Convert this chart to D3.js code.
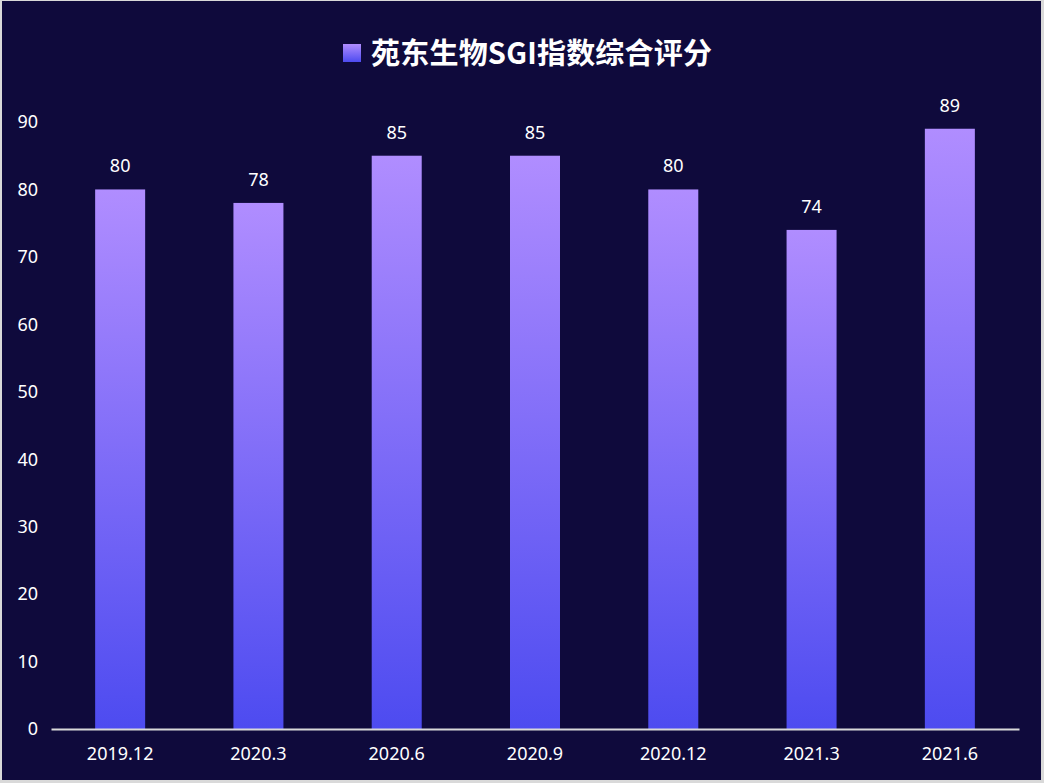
<!DOCTYPE html>
<html>
<head>
<meta charset="utf-8">
<script src="https://d3js.org/d3.v7.min.js"></script>
<style>
  body { margin: 0; background: #d9d9d9; }
  svg { display: block; }
</style>
</head>
<body>
<script>
var categories = ["2019.12", "2020.3", "2020.6", "2020.9", "2020.12", "2021.3", "2021.6"];
var scores = [80, 78, 85, 85, 80, 74, 89];
var yTicks = [0, 10, 20, 30, 40, 50, 60, 70, 80, 90];
var title = "苑东生物SGI指数综合评分";

var W = 1044, H = 783;
var margin = {top: 122, right: 25, bottom: 54, left: 51};

var svg = d3.select("body").append("svg")
    .attr("width", W)
    .attr("height", H);

svg.append("rect")
    .attr("x", 2).attr("y", 1)
    .attr("width", W - 5).attr("height", H - 4)
    .attr("fill", "#0f0a3c");

var defs = svg.append("defs");
var grad = defs.append("linearGradient")
    .attr("id", "barGrad")
    .attr("x1", 0).attr("y1", 0).attr("x2", 0).attr("y2", 1);
grad.append("stop").attr("offset", "0%").attr("stop-color", "#b08dff");
grad.append("stop").attr("offset", "100%").attr("stop-color", "#4d4bf0");

var x = d3.scaleBand()
    .domain(categories)
    .range([margin.left, W - margin.right])
    .paddingInner(0)
    .paddingOuter(0);

var y = d3.scaleLinear()
    .domain([0, 90])
    .range([H - margin.bottom, margin.top]);

var font = "'Noto Sans', 'Noto Sans CJK SC', sans-serif";

// bars
var barW = 50;
svg.append("g").selectAll("rect")
    .data(scores).enter()
    .append("rect")
    .attr("x", (d, i) => x(categories[i]) + x.bandwidth() / 2 - barW / 2)
    .attr("y", d => y(d))
    .attr("width", barW)
    .attr("height", d => y(0) - y(d))
    .attr("fill", "url(#barGrad)");

// value labels
svg.append("g").selectAll("text")
    .data(scores).enter()
    .append("text")
    .attr("x", (d, i) => x(categories[i]) + x.bandwidth() / 2)
    .attr("y", d => y(d) - 17)
    .attr("text-anchor", "middle")
    .attr("fill", "#fff")
    .style("font-family", font)
    .style("font-size", "18px")
    .text(d => d);

// y axis labels
svg.append("g").selectAll("text")
    .data(yTicks).enter()
    .append("text")
    .attr("x", 38)
    .attr("y", d => y(d))
    .attr("dy", "0.35em")
    .attr("text-anchor", "end")
    .attr("fill", "#fff")
    .style("font-family", font)
    .style("font-size", "18px")
    .text(d => d);

// x axis
var xAxis = svg.append("g")
    .attr("transform", "translate(0," + y(0) + ")")
    .call(d3.axisBottom(x).tickSize(0).tickPadding(18));
xAxis.select(".domain").attr("stroke", "#d9d9d9").attr("stroke-width", 2);
xAxis.selectAll("text")
    .attr("fill", "#fff")
    .style("font-family", font)
    .style("font-size", "18px");

// title with legend marker
var lgGrad = defs.append("linearGradient")
    .attr("id", "lgGrad")
    .attr("x1", 0).attr("y1", 0).attr("x2", 0).attr("y2", 1);
lgGrad.append("stop").attr("offset", "0%").attr("stop-color", "#b08dff");
lgGrad.append("stop").attr("offset", "100%").attr("stop-color", "#4d4bf0");

svg.append("rect")
    .attr("x", 343).attr("y", 44)
    .attr("width", 18).attr("height", 18)
    .attr("fill", "url(#lgGrad)");

svg.append("text")
    .attr("x", 371)
    .attr("y", 64)
    .attr("fill", "#fff")
    .attr("textLength", 341)
    .style("font-family", "'Noto Sans CJK SC', sans-serif")
    .style("font-weight", "bold")
    .style("font-size", "29px")
    .text(title);
</script>
</body>
</html>
